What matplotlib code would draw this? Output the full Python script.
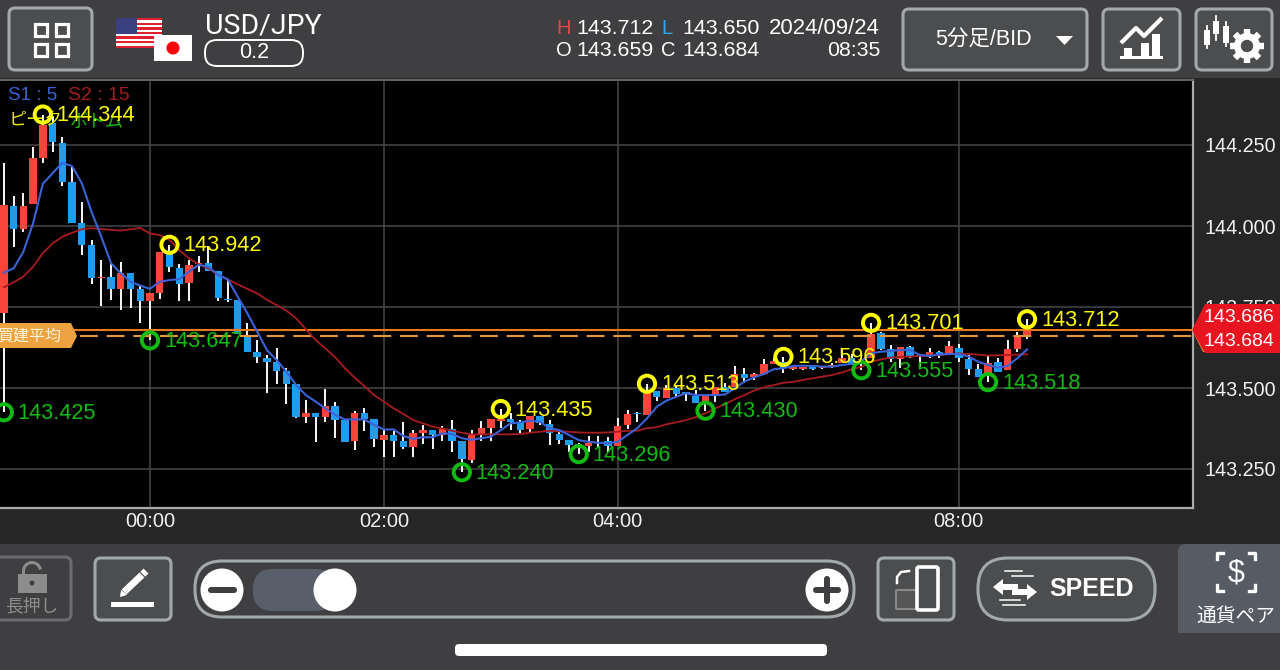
import matplotlib
matplotlib.use('Agg')
import matplotlib.pyplot as plt
from matplotlib.patches import FancyBboxPatch, Polygon, Rectangle, Circle, Wedge
import numpy as np

plt.rcParams['font.family'] = ['Liberation Sans', 'Noto Sans CJK JP', 'DejaVu Sans']

# candles, 5 minute bars, first one is 22:45
first_bar = -15
opens = [143.733, 144.062, 143.990, 144.067, 144.211, 144.317, 144.255, 144.136, 144.008, 143.940,
         143.839, 143.843, 143.805, 143.854, 143.806, 143.767, 143.792, 143.919, 143.871, 143.824,
         143.882, 143.885, 143.860, 143.773, 143.772, 143.660, 143.612, 143.594, 143.581, 143.552,
         143.511, 143.409, 143.423, 143.411, 143.443, 143.402, 143.335, 143.422, 143.404, 143.339,
         143.355, 143.335, 143.319, 143.361, 143.370, 143.356, 143.373, 143.335, 143.278, 143.356,
         143.378, 143.399, 143.405, 143.391, 143.372, 143.413, 143.389, 143.358, 143.340, 143.325,
         143.322, 143.331, 143.335, 143.322, 143.385, 143.421, 143.418, 143.492, 143.470, 143.500,
         143.483, 143.476, 143.458, 143.476, 143.504, 143.502, 143.543, 143.533, 143.543, 143.574,
         143.581, 143.559, 143.560, 143.566, 143.561, 143.566, 143.576, 143.592, 143.585, 143.592,
         143.669, 143.619, 143.589, 143.626, 143.600, 143.599, 143.612, 143.605, 143.622, 143.590,
         143.558, 143.537, 143.581, 143.556, 143.619, 143.659]
highs = [144.193, 144.093, 144.101, 144.245, 144.344, 144.338, 144.274, 144.181, 144.075, 143.957,
         143.895, 143.882, 143.890, 143.854, 143.815, 143.792, 143.919, 143.942, 143.882, 143.895,
         143.908, 143.939, 143.860, 143.833, 143.772, 143.700, 143.648, 143.602, 143.625, 143.561,
         143.511, 143.463, 143.423, 143.497, 143.456, 143.402, 143.428, 143.437, 143.404, 143.375,
         143.368, 143.394, 143.370, 143.386, 143.370, 143.384, 143.400, 143.335, 143.370, 143.399,
         143.403, 143.435, 143.424, 143.401, 143.413, 143.413, 143.401, 143.370, 143.340, 143.329,
         143.352, 143.352, 143.350, 143.406, 143.431, 143.425, 143.513, 143.492, 143.510, 143.509,
         143.489, 143.494, 143.476, 143.502, 143.514, 143.568, 143.561, 143.545, 143.588, 143.592,
         143.596, 143.566, 143.566, 143.568, 143.567, 143.577, 143.617, 143.604, 143.594, 143.701,
         143.674, 143.633, 143.626, 143.630, 143.600, 143.622, 143.615, 143.646, 143.636, 143.602,
         143.574, 143.602, 143.592, 143.648, 143.674, 143.712]
lows = [143.425, 143.936, 143.982, 144.067, 144.195, 144.229, 144.125, 144.008, 143.912, 143.821,
        143.753, 143.772, 143.741, 143.748, 143.700, 143.647, 143.775, 143.859, 143.770, 143.770,
        143.857, 143.860, 143.770, 143.766, 143.667, 143.612, 143.576, 143.486, 143.513, 143.451,
        143.406, 143.391, 143.332, 143.394, 143.345, 143.334, 143.309, 143.368, 143.319, 143.288,
        143.286, 143.312, 143.288, 143.326, 143.312, 143.335, 143.303, 143.240, 143.267, 143.335,
        143.335, 143.378, 143.370, 143.361, 143.361, 143.385, 143.324, 143.327, 143.303, 143.296,
        143.303, 143.319, 143.303, 143.322, 143.374, 143.395, 143.418, 143.459, 143.468, 143.473,
        143.461, 143.455, 143.430, 143.458, 143.489, 143.502, 143.514, 143.525, 143.543, 143.574,
        143.545, 143.556, 143.557, 143.557, 143.558, 143.563, 143.576, 143.570, 143.555, 143.592,
        143.617, 143.581, 143.561, 143.592, 143.566, 143.592, 143.592, 143.602, 143.581, 143.540,
        143.533, 143.518, 143.550, 143.556, 143.612, 143.650]
closes = [144.065, 143.990, 144.062, 144.211, 144.312, 144.258, 144.136, 144.008, 143.940, 143.838,
          143.840, 143.805, 143.854, 143.806, 143.768, 143.792, 143.919, 143.872, 143.822, 143.880,
          143.884, 143.860, 143.777, 143.771, 143.667, 143.612, 143.597, 143.581, 143.554, 143.512,
          143.409, 143.423, 143.411, 143.443, 143.402, 143.334, 143.422, 143.403, 143.343, 143.355,
          143.335, 143.319, 143.360, 143.370, 143.354, 143.375, 143.337, 143.280, 143.355, 143.377,
          143.403, 143.405, 143.396, 143.370, 143.413, 143.391, 143.360, 143.341, 143.325, 143.323,
          143.331, 143.329, 143.322, 143.384, 143.421, 143.419, 143.489, 143.473, 143.500, 143.483,
          143.482, 143.455, 143.476, 143.502, 143.489, 143.543, 143.532, 143.543, 143.574, 143.584,
          143.561, 143.563, 143.563, 143.560, 143.564, 143.571, 143.592, 143.575, 143.590, 143.666,
          143.619, 143.589, 143.626, 143.600, 143.598, 143.612, 143.600, 143.630, 143.592, 143.560,
          143.533, 143.576, 143.550, 143.619, 143.662, 143.684]

# moving averages
s1_line = [143.856, 143.869, 143.920, 144.008, 144.130, 144.163, 144.195, 144.185, 144.132, 144.044,
           143.967, 143.885, 143.854, 143.828, 143.816, 143.806, 143.828, 143.833, 143.836, 143.859,
           143.880, 143.874, 143.849, 143.835, 143.782, 143.730, 143.674, 143.617, 143.586, 143.550,
           143.509, 143.478, 143.458, 143.437, 143.417, 143.403, 143.403, 143.403, 143.386, 143.372,
           143.372, 143.352, 143.343, 143.348, 143.348, 143.360, 143.358, 143.345, 143.340, 143.345,
           143.350, 143.370, 143.391, 143.394, 143.399, 143.396, 143.376, 143.370, 143.355, 143.339,
           143.334, 143.331, 143.329, 143.334, 143.355, 143.376, 143.406, 143.442, 143.461, 143.473,
           143.484, 143.478, 143.478, 143.478, 143.480, 143.499, 143.520, 143.533, 143.543, 143.558,
           143.561, 143.568, 143.569, 143.568, 143.566, 143.566, 143.571, 143.574, 143.583, 143.607,
           143.612, 143.614, 143.617, 143.617, 143.602, 143.599, 143.604, 143.605, 143.605, 143.597,
           143.581, 143.571, 143.563, 143.568, 143.592, 143.619]
s2_line = [143.811, 143.826, 143.844, 143.874, 143.916, 143.946, 143.967, 143.979, 143.990, 143.993,
           143.991, 143.988, 143.986, 143.990, 143.994, 143.977, 143.972, 143.957, 143.926, 143.900,
           143.882, 143.869, 143.849, 143.835, 143.820, 143.806, 143.792, 143.772, 143.756, 143.739,
           143.715, 143.681, 143.648, 143.622, 143.595, 143.561, 143.532, 143.506, 143.478, 143.458,
           143.437, 143.420, 143.401, 143.391, 143.381, 143.375, 143.368, 143.362, 143.357, 143.357,
           143.357, 143.357, 143.357, 143.358, 143.362, 143.365, 143.368, 143.366, 143.365, 143.363,
           143.362, 143.362, 143.363, 143.365, 143.368, 143.368, 143.376, 143.379, 143.388, 143.394,
           143.401, 143.410, 143.422, 143.437, 143.450, 143.465, 143.478, 143.492, 143.502, 143.509,
           143.516, 143.519, 143.525, 143.530, 143.535, 143.540, 143.548, 143.558, 143.565, 143.581,
           143.588, 143.594, 143.596, 143.597, 143.599, 143.600, 143.602, 143.604, 143.607, 143.605,
           143.603, 143.600, 143.601, 143.602, 143.603, 143.604]

peak_bars = [-11, 2, 36, 51, 65, 74, 90]
peak_prices = [144.344, 143.942, 143.435, 143.513, 143.596, 143.701, 143.712]
bottom_bars = [-15, 0, 32, 44, 57, 73, 86]
bottom_prices = [143.425, 143.647, 143.240, 143.296, 143.430, 143.555, 143.518]

price_ticks = [143.25, 143.5, 143.75, 144.0, 144.25]
time_bars = [0, 24, 48, 83]
time_labels = ['00:00', '02:00', '04:00', '08:00']
current_line = 143.680
average_line = 143.662

BG = '#3f3f41'
BAND = '#262626'
BTN = '#4b4d4f'
EDGE = '#a3a8a8'
UP = '#f8443a'
DOWN = '#1f9bef'
YELLOW = '#ffff00'
GREEN = '#11bb11'
WHITE = '#ffffff'
W, H = 1280, 670


def button(ax, x0, y0, x1, y1, r=6, edge=EDGE, face=BTN, lw=2.2, z=2):
    ax.add_patch(FancyBboxPatch((x0 + r, y0 + r), x1 - x0 - 2 * r, y1 - y0 - 2 * r,
                                boxstyle='round,pad=%d' % r, fc=face, ec=edge, lw=lw, zorder=z))


fig = plt.figure(figsize=(W / 100, H / 100), dpi=100, facecolor=BG)

# pixel space axes for the app chrome, one below the chart and one on top
ui = fig.add_axes([0, 0, 1, 1], zorder=0)
ui.set_xlim(0, W)
ui.set_ylim(H, 0)
ui.axis('off')
over = fig.add_axes([0, 0, 1, 1], zorder=5)
over.set_xlim(0, W)
over.set_ylim(H, 0)
over.axis('off')
over.patch.set_alpha(0)

ui.add_patch(Rectangle((0, 78), W, 466, fc=BAND, ec='none'))

# chart
left, top, right, bottom = 0, 80, 1193, 508
ax = fig.add_axes([left / W, 1 - bottom / H, (right - left) / W, (bottom - top) / H], zorder=2)
ax.set_facecolor('black')
bar_px = 9.745
ax.set_xlim((left - 150) / bar_px, (right - 150) / bar_px)
ax.set_ylim(144 - (bottom - 226) / 324, 144 + (226 - top) / 324)
ax.set_xticks(time_bars, time_labels)
ax.set_yticks(price_ticks, ['%.3f' % p for p in price_ticks])
ax.yaxis.tick_right()
ax.tick_params(axis='both', length=0, colors='#f0f0f0', labelsize=14.2)
ax.tick_params(axis='y', pad=8)
ax.tick_params(axis='x', pad=3, labelsize=14.5)
ax.grid(True, color='#474747', lw=1.1)
ax.set_axisbelow(True)
ax.spines['left'].set_visible(False)
ax.spines['top'].set_color('#666666')
ax.spines['top'].set_linewidth(1.4)
for side in ['right', 'bottom']:
    ax.spines[side].set_color('#aaaaaa')
    ax.spines[side].set_linewidth(1.6)

bars = np.arange(len(opens)) + first_bar
o, h, l, c = map(np.array, (opens, highs, lows, closes))
cols = [UP if cc >= oo else DOWN for oo, cc in zip(o, c)]
ax.vlines(bars, l, h, color='#f2f2f2', lw=1.45, zorder=3)
ax.bar(bars, np.maximum(np.abs(c - o), 0.005), bottom=np.minimum(o, c), width=0.76,
       color=cols, linewidth=0, zorder=4)
ax.axhline(current_line, color='#e57a1e', lw=1.5, zorder=5)
ax.axhline(average_line, color='#e8963a', lw=1.5, dashes=(8.6, 4.2), zorder=5)
ax.plot(bars, s2_line, color='#a81c20', lw=1.3, zorder=6)
ax.plot(bars, s1_line, color='#3b62d6', lw=1.5, zorder=7)

ax.scatter(peak_bars, peak_prices, s=138, facecolors='none', edgecolors=YELLOW, linewidths=2.8, zorder=8, clip_on=False)
ax.scatter(bottom_bars, bottom_prices, s=138, facecolors='none', edgecolors=GREEN, linewidths=2.8, zorder=8, clip_on=False)
for b, p in zip(peak_bars, peak_prices):
    ax.annotate('%.3f' % p, (b, p), xytext=(10, -0.7), textcoords='offset points', color=YELLOW,
                fontsize=15.7, va='center', zorder=9)
for b, p in zip(bottom_bars, bottom_prices):
    ax.annotate('%.3f' % p, (b, p), xytext=(10, -0.7), textcoords='offset points', color=GREEN,
                fontsize=15.7, va='center', zorder=9)

# chart legend
ax.text(8, 96, 'S1 : 5', color='#3b62d6', fontsize=13.5, va='center', transform=ui.transData, zorder=9)
ax.text(68, 96, 'S2 : 15', color='#a31c20', fontsize=14, va='center', transform=ui.transData, zorder=9)
ax.text(9, 121, 'ピーク', color='#e6e600', fontsize=13, va='center', transform=ui.transData, zorder=7)
ax.text(70, 122, 'ボトム', color=GREEN, fontsize=13, va='center', transform=ui.transData, zorder=7)

# price tags
over.add_patch(Polygon([(1193, 332), (1203, 352), (1207, 352), (1200, 332)], fc='#e8963a', ec='none'))
over.add_patch(Polygon([(1193, 328), (1205, 304), (1280, 304), (1280, 353), (1205, 353), (1193, 332)],
                       fc='#e8141f', ec='none'))
over.text(1239, 317, '143.686', color=WHITE, fontsize=14, ha='center', va='center')
over.text(1239, 342, '143.684', color=WHITE, fontsize=14, ha='center', va='center')
over.add_patch(Polygon([(0, 323), (71, 323), (77, 336), (71, 348), (0, 348)], fc='#eda23f', ec='none'))
over.text(-3, 336, '買建平均', color='#fff4e0', fontsize=11.5, va='center')

# header left
button(ui, 9, 8, 92, 70)
for gx in (34.5, 55.5):
    for gy in (23.5, 43.5):
        ui.add_patch(Rectangle((gx, gy), 12, 12, fc='none', ec=WHITE, lw=2.3, zorder=3))
# flags
flag_x, flag_y, flag_w, flag_h = 116, 18, 46, 30
for i in range(13):
    ui.add_patch(Rectangle((flag_x, flag_y + i * flag_h / 13), flag_w, flag_h / 13,
                           fc='#e0202c' if i % 2 == 0 else WHITE, ec='none', zorder=3))
ui.add_patch(Rectangle((flag_x, flag_y), 21, 16, fc='#3a3f80', ec='none', zorder=4))
ui.add_patch(Rectangle((154, 35), 38, 26, fc=WHITE, ec='none', zorder=5))
ui.add_patch(Circle((173, 48), 6.5, fc='#fa0008', ec='none', zorder=6))
ui.text(205, 26, 'USD/JPY', color=WHITE, fontsize=20.5, family='Roboto', va='center')
button(ui, 205, 40, 303, 66, r=12, edge=WHITE, face=BG, lw=1.4)
ui.text(254, 53, '0.2', color=WHITE, fontsize=15.5, ha='center', va='center', zorder=3)

# header prices
ui.text(556, 29, 'H', color='#e8434a', fontsize=14.5, va='center')
ui.text(576, 29, '143.712', color=WHITE, fontsize=15.4, va='center')
ui.text(661, 29, 'L', color='#2aa8f0', fontsize=14.5, va='center')
ui.text(682, 29, '143.650', color=WHITE, fontsize=15.4, va='center')
ui.text(880, 29, '2024/09/24', color=WHITE, fontsize=15.9, ha='right', va='center')
ui.text(556, 50, 'O', color=WHITE, fontsize=14.5, va='center')
ui.text(576, 50, '143.659', color=WHITE, fontsize=15.4, va='center')
ui.text(661, 50, 'C', color=WHITE, fontsize=14.5, va='center')
ui.text(682, 50, '143.684', color=WHITE, fontsize=15.4, va='center')
ui.text(880, 50, '08:35', color=WHITE, fontsize=15.4, ha='right', va='center')

# header buttons
button(ui, 903, 9, 1087, 70)
ui.text(983, 40, '5分足/BID', color=WHITE, fontsize=15.5, ha='center', va='center', zorder=3)
ui.add_patch(Polygon([(1056, 36), (1073, 36), (1064.5, 45)], fc=WHITE, ec='none', zorder=3))
button(ui, 1103, 9, 1180, 70)
ui.add_patch(Rectangle((1120, 56), 43, 3, fc=WHITE, ec='none', zorder=3))
for bx, by in ((1124, 48), (1141, 43), (1152, 34)):
    ui.add_patch(Rectangle((bx, by), 8, 57 - by, fc=WHITE, ec='none', zorder=3))
ui.plot([1121, 1136, 1144, 1162], [43, 28, 36, 18], color=WHITE, lw=3, zorder=4, solid_capstyle='butt')
button(ui, 1196, 9, 1272, 70)
for cx, y0, y1, b0, b1 in ((1207, 26, 48, 30, 45), (1216, 16, 40, 21, 34), (1226, 22, 46, 26, 43)):
    ui.plot([cx, cx], [y0, y1], color=WHITE, lw=1.3, zorder=3)
    ui.add_patch(Rectangle((cx - 2.7, b0), 5.4, b1 - b0, fc=WHITE, ec='none', zorder=3))
gear = (1247, 46)
for ang in np.arange(0, 360, 45):
    ui.plot([gear[0], gear[0] + 17 * np.cos(np.radians(ang))], [gear[1], gear[1] + 17 * np.sin(np.radians(ang))],
            color=WHITE, lw=4.6, zorder=3, solid_capstyle='butt')
ui.add_patch(Circle(gear, 13, fc=WHITE, ec='none', zorder=4))
ui.add_patch(Circle(gear, 6.2, fc=BTN, ec='none', zorder=5))

# bottom bar
button(ui, -6, 557, 71, 620, edge='#6a6c6e', face=BG)
ui.add_patch(Wedge((32, 571), 10, 180, 350, width=3, fc='#8c8c8c', ec='none', zorder=3))
ui.add_patch(Rectangle((22, 571), 3, 3, fc='#8c8c8c', ec='none', zorder=3))
ui.add_patch(Rectangle((18, 574), 29, 19, fc='#8c8c8c', ec='none', zorder=3))
ui.add_patch(Circle((32, 583), 2.5, fc=BG, ec='none', zorder=4))
ui.text(32, 607, '長押し', color='#8c8c8c', fontsize=12.8, ha='center', va='center', zorder=3)
button(ui, 95, 558, 171, 620)
ui.add_patch(Rectangle((111, 602), 43, 5, fc=WHITE, ec='none', zorder=3))
ui.plot([124, 142], [592, 575], color=WHITE, lw=5, zorder=3, solid_capstyle='butt')
ui.plot([142.8, 146], [574.2, 571], color=WHITE, lw=5, zorder=3, solid_capstyle='butt')
ui.add_patch(Polygon([(120, 597), (121, 590), (127, 595)], fc=WHITE, ec='none', zorder=3))

button(ui, 195, 561, 854, 617, r=27, face=BG)
ui.add_patch(FancyBboxPatch((253, 569), 82, 42, boxstyle='round,pad=0,rounding_size=20', fc='#585f6b', ec='none', zorder=3))
ui.add_patch(Circle((222, 590), 21.5, fc=WHITE, ec='none', zorder=4))
ui.add_patch(FancyBboxPatch((208, 587), 29, 6, boxstyle='round,pad=0,rounding_size=3', fc='#3f3f41', ec='none', zorder=5))
ui.add_patch(Circle((335, 590), 21.5, fc=WHITE, ec='none', zorder=4))
ui.add_patch(Circle((827, 590), 21.5, fc=WHITE, ec='none', zorder=4))
ui.add_patch(FancyBboxPatch((813, 587), 28, 6, boxstyle='round,pad=0,rounding_size=3', fc='#3f3f41', ec='none', zorder=5))
ui.add_patch(FancyBboxPatch((824, 576), 6, 28, boxstyle='round,pad=0,rounding_size=3', fc='#3f3f41', ec='none', zorder=5))

button(ui, 878, 558, 954, 620)
ui.add_patch(FancyBboxPatch((919, 569), 17, 39, boxstyle='round,pad=2', fc='#4b4d4f', ec=WHITE, lw=2.6, zorder=4))
ui.add_patch(FancyBboxPatch((897, 591), 20, 17, boxstyle='round,pad=1', fc='#555555', ec='#888888', lw=1.5, zorder=3))
ui.plot([897, 897, 901, 909], [583, 577, 572, 571], color=WHITE, lw=1.8, zorder=3)

button(ui, 978, 558, 1155, 620, r=30)
ui.text(1049, 589, 'SPEED', color=WHITE, fontsize=18, fontweight='bold', va='center', zorder=3)
ui.add_patch(Polygon([(993, 587), (1003, 579), (1003, 584), (1018, 584), (1018, 590), (1003, 590), (1003, 595)], fc=WHITE, ec='none', zorder=3))
ui.add_patch(Polygon([(1037, 592), (1027, 584), (1027, 589), (1012, 589), (1012, 595), (1027, 595), (1027, 600)], fc=WHITE, ec='none', zorder=3))
for x0, x1, y in ((1005, 1022, 571), (1012, 1033, 576), (1000, 1020, 600), (1003, 1025, 605)):
    ui.plot([x0, x1], [y, y], color=WHITE, lw=1.1, zorder=3)

ui.add_patch(FancyBboxPatch((1186, 552), 110, 73, boxstyle='round,pad=8', fc='#565b64', ec='none', zorder=2))
ui.add_patch(Rectangle((1178, 625), 102, 8, fc='#565b64', ec='none', zorder=2))
ui.add_patch(Rectangle((0, 633), W, 37, fc=BG, ec='none', zorder=2))
ui.text(1236, 573, '$', color=WHITE, fontsize=22, ha='center', va='center', zorder=3)
for sx in (-1, 1):
    for sy in (-1, 1):
        cx, cy = 1236 + sx * 19, 572 + sy * 19
        ui.plot([cx - sx * 6, cx, cx], [cy, cy, cy - sy * 6], color=WHITE, lw=2.4, zorder=3)
ui.text(1236, 616, '通貨ペア', color=WHITE, fontsize=14.2, ha='center', va='center', zorder=3)

ui.add_patch(FancyBboxPatch((459, 648), 364, 4, boxstyle='round,pad=4', fc=WHITE, ec='none', zorder=3))

fig.savefig('out.png', dpi=100, facecolor=BG)
